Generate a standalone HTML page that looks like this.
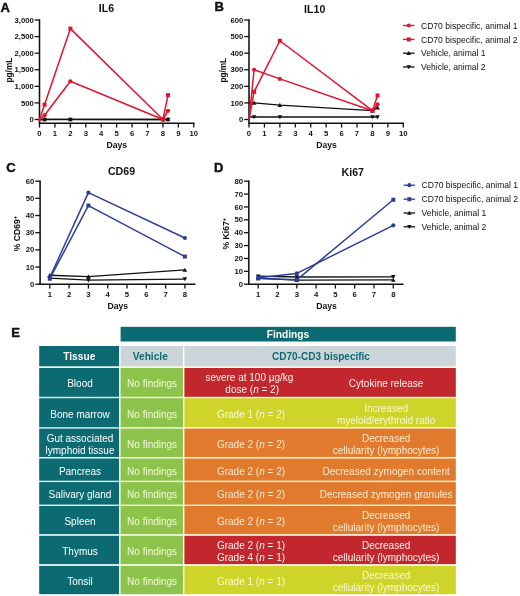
<!DOCTYPE html>
<html><head><meta charset="utf-8"><title>Figure</title>
<style>html,body{margin:0;padding:0;background:#fff}svg{display:block}</style></head>
<body>
<svg width="520" height="596" viewBox="0 0 520 596" font-family='"Liberation Sans", Arial, sans-serif' fill="#111111">
<rect width="520" height="596" fill="#fff"/>
<text x="0.4" y="12.4" font-size="13.0" font-weight="bold" stroke="#111" stroke-width="0.45" stroke-linejoin="round">A</text>
<text x="214.4" y="11.4" font-size="13.0" font-weight="bold" stroke="#111" stroke-width="0.45" stroke-linejoin="round">B</text>
<text x="6.3" y="172.3" font-size="13.0" font-weight="bold" stroke="#111" stroke-width="0.45" stroke-linejoin="round">C</text>
<text x="214.0" y="172.3" font-size="13.0" font-weight="bold" stroke="#111" stroke-width="0.45" stroke-linejoin="round">D</text>
<text x="11.3" y="337.4" font-size="13.0" font-weight="bold" stroke="#111" stroke-width="0.45" stroke-linejoin="round">E</text>
<line x1="39.5" y1="19.20" x2="39.5" y2="123.90" stroke="#111111" stroke-width="1.55"/>
<line x1="38.80" y1="123.2" x2="194.5" y2="123.2" stroke="#111111" stroke-width="1.55"/>
<line x1="34.70" y1="119.50" x2="39.5" y2="119.50" stroke="#111111" stroke-width="1.3"/>
<text x="33.80" y="122.10" text-anchor="end" font-size="7.7" font-weight="bold">0</text>
<line x1="34.70" y1="102.92" x2="39.5" y2="102.92" stroke="#111111" stroke-width="1.3"/>
<text x="33.80" y="105.52" text-anchor="end" font-size="7.7" font-weight="bold">500</text>
<line x1="34.70" y1="86.34" x2="39.5" y2="86.34" stroke="#111111" stroke-width="1.3"/>
<text x="33.80" y="88.94" text-anchor="end" font-size="7.7" font-weight="bold">1,000</text>
<line x1="34.70" y1="69.76" x2="39.5" y2="69.76" stroke="#111111" stroke-width="1.3"/>
<text x="33.80" y="72.36" text-anchor="end" font-size="7.7" font-weight="bold">1,500</text>
<line x1="34.70" y1="53.18" x2="39.5" y2="53.18" stroke="#111111" stroke-width="1.3"/>
<text x="33.80" y="55.78" text-anchor="end" font-size="7.7" font-weight="bold">2,000</text>
<line x1="34.70" y1="36.60" x2="39.5" y2="36.60" stroke="#111111" stroke-width="1.3"/>
<text x="33.80" y="39.20" text-anchor="end" font-size="7.7" font-weight="bold">2,500</text>
<line x1="34.70" y1="20.02" x2="39.5" y2="20.02" stroke="#111111" stroke-width="1.3"/>
<text x="33.80" y="22.62" text-anchor="end" font-size="7.7" font-weight="bold">3,000</text>
<line x1="39.50" y1="123.2" x2="39.50" y2="127.60" stroke="#111111" stroke-width="1.3"/>
<text x="39.50" y="135.80" text-anchor="middle" font-size="7.7" font-weight="bold">0</text>
<line x1="54.93" y1="123.2" x2="54.93" y2="127.60" stroke="#111111" stroke-width="1.3"/>
<text x="54.93" y="135.80" text-anchor="middle" font-size="7.7" font-weight="bold">1</text>
<line x1="70.36" y1="123.2" x2="70.36" y2="127.60" stroke="#111111" stroke-width="1.3"/>
<text x="70.36" y="135.80" text-anchor="middle" font-size="7.7" font-weight="bold">2</text>
<line x1="85.79" y1="123.2" x2="85.79" y2="127.60" stroke="#111111" stroke-width="1.3"/>
<text x="85.79" y="135.80" text-anchor="middle" font-size="7.7" font-weight="bold">3</text>
<line x1="101.22" y1="123.2" x2="101.22" y2="127.60" stroke="#111111" stroke-width="1.3"/>
<text x="101.22" y="135.80" text-anchor="middle" font-size="7.7" font-weight="bold">4</text>
<line x1="116.65" y1="123.2" x2="116.65" y2="127.60" stroke="#111111" stroke-width="1.3"/>
<text x="116.65" y="135.80" text-anchor="middle" font-size="7.7" font-weight="bold">5</text>
<line x1="132.08" y1="123.2" x2="132.08" y2="127.60" stroke="#111111" stroke-width="1.3"/>
<text x="132.08" y="135.80" text-anchor="middle" font-size="7.7" font-weight="bold">6</text>
<line x1="147.51" y1="123.2" x2="147.51" y2="127.60" stroke="#111111" stroke-width="1.3"/>
<text x="147.51" y="135.80" text-anchor="middle" font-size="7.7" font-weight="bold">7</text>
<line x1="162.94" y1="123.2" x2="162.94" y2="127.60" stroke="#111111" stroke-width="1.3"/>
<text x="162.94" y="135.80" text-anchor="middle" font-size="7.7" font-weight="bold">8</text>
<line x1="178.37" y1="123.2" x2="178.37" y2="127.60" stroke="#111111" stroke-width="1.3"/>
<text x="178.37" y="135.80" text-anchor="middle" font-size="7.7" font-weight="bold">9</text>
<line x1="193.80" y1="123.2" x2="193.80" y2="127.60" stroke="#111111" stroke-width="1.3"/>
<text x="193.80" y="135.80" text-anchor="middle" font-size="7.7" font-weight="bold">10</text>
<text x="106.5" y="12.30" text-anchor="middle" font-size="10.6" font-weight="bold">IL6</text>
<text transform="translate(12.0,70.1) rotate(-90)" text-anchor="middle" font-size="8.2" font-weight="bold">pg/mL</text>
<text x="116.8" y="148.20" text-anchor="middle" font-size="8.6" font-weight="bold">Days</text>
<polyline points="39.50,119.50 44.59,119.40 70.36,119.33 162.94,119.50 168.03,119.33" fill="none" stroke="#111111" stroke-width="1.3" stroke-linejoin="round"/>
<polygon points="42.29,121.24 46.89,121.24 44.59,117.10" fill="#111111"/>
<polygon points="68.06,121.17 72.66,121.17 70.36,117.03" fill="#111111"/>
<polygon points="160.64,121.34 165.24,121.34 162.94,117.20" fill="#111111"/>
<polygon points="165.73,121.17 170.33,121.17 168.03,117.03" fill="#111111"/>
<polyline points="39.50,119.50 44.59,119.50 70.36,119.50 162.94,119.50 168.03,119.50" fill="none" stroke="#111111" stroke-width="1.3" stroke-linejoin="round"/>
<polygon points="42.29,117.66 46.89,117.66 44.59,121.80" fill="#111111"/>
<polygon points="68.06,117.66 72.66,117.66 70.36,121.80" fill="#111111"/>
<polygon points="160.64,117.66 165.24,117.66 162.94,121.80" fill="#111111"/>
<polygon points="165.73,117.66 170.33,117.66 168.03,121.80" fill="#111111"/>
<polyline points="39.50,119.50 44.59,115.19 70.36,81.27 162.94,119.50 168.03,110.81" fill="none" stroke="#e0152d" stroke-width="1.5" stroke-linejoin="round"/>
<circle cx="44.59" cy="115.19" r="2.10" fill="#e0152d"/>
<circle cx="70.36" cy="81.27" r="2.10" fill="#e0152d"/>
<circle cx="162.94" cy="119.50" r="2.10" fill="#e0152d"/>
<circle cx="168.03" cy="110.81" r="2.10" fill="#e0152d"/>
<polyline points="39.50,119.50 44.59,104.58 70.36,28.64 162.94,119.50 168.03,95.13" fill="none" stroke="#e0152d" stroke-width="1.5" stroke-linejoin="round"/>
<rect x="42.59" y="102.58" width="4.00" height="4.00" fill="#e0152d"/>
<rect x="68.36" y="26.64" width="4.00" height="4.00" fill="#e0152d"/>
<rect x="160.94" y="117.50" width="4.00" height="4.00" fill="#e0152d"/>
<rect x="166.03" y="93.13" width="4.00" height="4.00" fill="#e0152d"/>
<circle cx="39.7" cy="119.7" r="1.7" fill="#e0152d"/>
<line x1="249" y1="19.20" x2="249" y2="123.90" stroke="#111111" stroke-width="1.55"/>
<line x1="248.30" y1="123.2" x2="404" y2="123.2" stroke="#111111" stroke-width="1.55"/>
<line x1="244.20" y1="119.50" x2="249" y2="119.50" stroke="#111111" stroke-width="1.3"/>
<text x="243.30" y="122.10" text-anchor="end" font-size="7.7" font-weight="bold">0</text>
<line x1="244.20" y1="102.92" x2="249" y2="102.92" stroke="#111111" stroke-width="1.3"/>
<text x="243.30" y="105.52" text-anchor="end" font-size="7.7" font-weight="bold">100</text>
<line x1="244.20" y1="86.34" x2="249" y2="86.34" stroke="#111111" stroke-width="1.3"/>
<text x="243.30" y="88.94" text-anchor="end" font-size="7.7" font-weight="bold">200</text>
<line x1="244.20" y1="69.76" x2="249" y2="69.76" stroke="#111111" stroke-width="1.3"/>
<text x="243.30" y="72.36" text-anchor="end" font-size="7.7" font-weight="bold">300</text>
<line x1="244.20" y1="53.18" x2="249" y2="53.18" stroke="#111111" stroke-width="1.3"/>
<text x="243.30" y="55.78" text-anchor="end" font-size="7.7" font-weight="bold">400</text>
<line x1="244.20" y1="36.60" x2="249" y2="36.60" stroke="#111111" stroke-width="1.3"/>
<text x="243.30" y="39.20" text-anchor="end" font-size="7.7" font-weight="bold">500</text>
<line x1="244.20" y1="20.02" x2="249" y2="20.02" stroke="#111111" stroke-width="1.3"/>
<text x="243.30" y="22.62" text-anchor="end" font-size="7.7" font-weight="bold">600</text>
<line x1="249.00" y1="123.2" x2="249.00" y2="127.60" stroke="#111111" stroke-width="1.3"/>
<text x="249.00" y="135.80" text-anchor="middle" font-size="7.7" font-weight="bold">0</text>
<line x1="264.43" y1="123.2" x2="264.43" y2="127.60" stroke="#111111" stroke-width="1.3"/>
<text x="264.43" y="135.80" text-anchor="middle" font-size="7.7" font-weight="bold">1</text>
<line x1="279.86" y1="123.2" x2="279.86" y2="127.60" stroke="#111111" stroke-width="1.3"/>
<text x="279.86" y="135.80" text-anchor="middle" font-size="7.7" font-weight="bold">2</text>
<line x1="295.29" y1="123.2" x2="295.29" y2="127.60" stroke="#111111" stroke-width="1.3"/>
<text x="295.29" y="135.80" text-anchor="middle" font-size="7.7" font-weight="bold">3</text>
<line x1="310.72" y1="123.2" x2="310.72" y2="127.60" stroke="#111111" stroke-width="1.3"/>
<text x="310.72" y="135.80" text-anchor="middle" font-size="7.7" font-weight="bold">4</text>
<line x1="326.15" y1="123.2" x2="326.15" y2="127.60" stroke="#111111" stroke-width="1.3"/>
<text x="326.15" y="135.80" text-anchor="middle" font-size="7.7" font-weight="bold">5</text>
<line x1="341.58" y1="123.2" x2="341.58" y2="127.60" stroke="#111111" stroke-width="1.3"/>
<text x="341.58" y="135.80" text-anchor="middle" font-size="7.7" font-weight="bold">6</text>
<line x1="357.01" y1="123.2" x2="357.01" y2="127.60" stroke="#111111" stroke-width="1.3"/>
<text x="357.01" y="135.80" text-anchor="middle" font-size="7.7" font-weight="bold">7</text>
<line x1="372.44" y1="123.2" x2="372.44" y2="127.60" stroke="#111111" stroke-width="1.3"/>
<text x="372.44" y="135.80" text-anchor="middle" font-size="7.7" font-weight="bold">8</text>
<line x1="387.87" y1="123.2" x2="387.87" y2="127.60" stroke="#111111" stroke-width="1.3"/>
<text x="387.87" y="135.80" text-anchor="middle" font-size="7.7" font-weight="bold">9</text>
<line x1="403.30" y1="123.2" x2="403.30" y2="127.60" stroke="#111111" stroke-width="1.3"/>
<text x="403.30" y="135.80" text-anchor="middle" font-size="7.7" font-weight="bold">10</text>
<text x="314.7" y="13.10" text-anchor="middle" font-size="10.6" font-weight="bold">IL10</text>
<text transform="translate(225.5,70.2) rotate(-90)" text-anchor="middle" font-size="8.2" font-weight="bold">pg/mL</text>
<text x="326.5" y="148.20" text-anchor="middle" font-size="8.6" font-weight="bold">Days</text>
<polyline points="249.00,102.92 254.09,102.92 279.86,105.08 372.44,110.71 377.53,107.56" fill="none" stroke="#111111" stroke-width="1.3" stroke-linejoin="round"/>
<polygon points="251.79,104.76 256.39,104.76 254.09,100.62" fill="#111111"/>
<polygon points="277.56,106.92 282.16,106.92 279.86,102.78" fill="#111111"/>
<polygon points="370.14,112.55 374.74,112.55 372.44,108.41" fill="#111111"/>
<polygon points="375.23,109.40 379.83,109.40 377.53,105.26" fill="#111111"/>
<polyline points="249.00,117.01 254.09,117.01 279.86,117.01 372.44,117.01 377.53,117.01" fill="none" stroke="#111111" stroke-width="1.3" stroke-linejoin="round"/>
<polygon points="251.79,115.17 256.39,115.17 254.09,119.31" fill="#111111"/>
<polygon points="277.56,115.17 282.16,115.17 279.86,119.31" fill="#111111"/>
<polygon points="370.14,115.17 374.74,115.17 372.44,119.31" fill="#111111"/>
<polygon points="375.23,115.17 379.83,115.17 377.53,119.31" fill="#111111"/>
<polyline points="249.00,119.50 254.09,69.76 279.86,78.88 372.44,110.71 377.53,104.25" fill="none" stroke="#e0152d" stroke-width="1.5" stroke-linejoin="round"/>
<circle cx="254.09" cy="69.76" r="2.10" fill="#e0152d"/>
<circle cx="279.86" cy="78.88" r="2.10" fill="#e0152d"/>
<circle cx="372.44" cy="110.71" r="2.10" fill="#e0152d"/>
<circle cx="377.53" cy="104.25" r="2.10" fill="#e0152d"/>
<polyline points="249.00,119.50 254.09,91.81 279.86,40.75 372.44,110.71 377.53,95.46" fill="none" stroke="#e0152d" stroke-width="1.5" stroke-linejoin="round"/>
<rect x="252.09" y="89.81" width="4.00" height="4.00" fill="#e0152d"/>
<rect x="277.86" y="38.75" width="4.00" height="4.00" fill="#e0152d"/>
<rect x="370.44" y="108.71" width="4.00" height="4.00" fill="#e0152d"/>
<rect x="375.53" y="93.46" width="4.00" height="4.00" fill="#e0152d"/>
<line x1="40.1" y1="180.50" x2="40.1" y2="284.90" stroke="#111111" stroke-width="1.55"/>
<line x1="39.40" y1="284.2" x2="195.5" y2="284.2" stroke="#111111" stroke-width="1.55"/>
<line x1="35.30" y1="284.20" x2="40.1" y2="284.20" stroke="#111111" stroke-width="1.3"/>
<text x="34.40" y="286.80" text-anchor="end" font-size="7.7" font-weight="bold">0</text>
<line x1="35.30" y1="267.03" x2="40.1" y2="267.03" stroke="#111111" stroke-width="1.3"/>
<text x="34.40" y="269.63" text-anchor="end" font-size="7.7" font-weight="bold">10</text>
<line x1="35.30" y1="249.86" x2="40.1" y2="249.86" stroke="#111111" stroke-width="1.3"/>
<text x="34.40" y="252.46" text-anchor="end" font-size="7.7" font-weight="bold">20</text>
<line x1="35.30" y1="232.69" x2="40.1" y2="232.69" stroke="#111111" stroke-width="1.3"/>
<text x="34.40" y="235.29" text-anchor="end" font-size="7.7" font-weight="bold">30</text>
<line x1="35.30" y1="215.52" x2="40.1" y2="215.52" stroke="#111111" stroke-width="1.3"/>
<text x="34.40" y="218.12" text-anchor="end" font-size="7.7" font-weight="bold">40</text>
<line x1="35.30" y1="198.35" x2="40.1" y2="198.35" stroke="#111111" stroke-width="1.3"/>
<text x="34.40" y="200.95" text-anchor="end" font-size="7.7" font-weight="bold">50</text>
<line x1="35.30" y1="181.18" x2="40.1" y2="181.18" stroke="#111111" stroke-width="1.3"/>
<text x="34.40" y="183.78" text-anchor="end" font-size="7.7" font-weight="bold">60</text>
<line x1="49.80" y1="284.2" x2="49.80" y2="288.60" stroke="#111111" stroke-width="1.3"/>
<text x="49.80" y="296.80" text-anchor="middle" font-size="7.7" font-weight="bold">1</text>
<line x1="69.10" y1="284.2" x2="69.10" y2="288.60" stroke="#111111" stroke-width="1.3"/>
<text x="69.10" y="296.80" text-anchor="middle" font-size="7.7" font-weight="bold">2</text>
<line x1="88.40" y1="284.2" x2="88.40" y2="288.60" stroke="#111111" stroke-width="1.3"/>
<text x="88.40" y="296.80" text-anchor="middle" font-size="7.7" font-weight="bold">3</text>
<line x1="107.70" y1="284.2" x2="107.70" y2="288.60" stroke="#111111" stroke-width="1.3"/>
<text x="107.70" y="296.80" text-anchor="middle" font-size="7.7" font-weight="bold">4</text>
<line x1="127.00" y1="284.2" x2="127.00" y2="288.60" stroke="#111111" stroke-width="1.3"/>
<text x="127.00" y="296.80" text-anchor="middle" font-size="7.7" font-weight="bold">5</text>
<line x1="146.30" y1="284.2" x2="146.30" y2="288.60" stroke="#111111" stroke-width="1.3"/>
<text x="146.30" y="296.80" text-anchor="middle" font-size="7.7" font-weight="bold">6</text>
<line x1="165.60" y1="284.2" x2="165.60" y2="288.60" stroke="#111111" stroke-width="1.3"/>
<text x="165.60" y="296.80" text-anchor="middle" font-size="7.7" font-weight="bold">7</text>
<line x1="184.90" y1="284.2" x2="184.90" y2="288.60" stroke="#111111" stroke-width="1.3"/>
<text x="184.90" y="296.80" text-anchor="middle" font-size="7.7" font-weight="bold">8</text>
<text x="121.5" y="174.90" text-anchor="middle" font-size="10.6" font-weight="bold">CD69</text>
<text transform="translate(20.3,233.7) rotate(-90)" text-anchor="middle" font-size="8.65" font-weight="bold">% CD69<tspan baseline-shift="super" font-size="5.5">+</tspan></text>
<text x="117.8" y="309.20" text-anchor="middle" font-size="8.6" font-weight="bold">Days</text>
<polyline points="49.80,275.27 88.40,276.65 184.90,269.95" fill="none" stroke="#111111" stroke-width="1.3" stroke-linejoin="round"/>
<polygon points="47.50,277.11 52.10,277.11 49.80,272.97" fill="#111111"/>
<polygon points="86.10,278.49 90.70,278.49 88.40,274.35" fill="#111111"/>
<polygon points="182.60,271.79 187.20,271.79 184.90,267.65" fill="#111111"/>
<polyline points="49.80,278.19 88.40,280.08 184.90,279.05" fill="none" stroke="#111111" stroke-width="1.3" stroke-linejoin="round"/>
<polygon points="47.50,276.35 52.10,276.35 49.80,280.49" fill="#111111"/>
<polygon points="86.10,278.24 90.70,278.24 88.40,282.38" fill="#111111"/>
<polygon points="182.60,277.21 187.20,277.21 184.90,281.35" fill="#111111"/>
<polyline points="49.80,277.50 88.40,192.68 184.90,238.01" fill="none" stroke="#2c3f98" stroke-width="1.5" stroke-linejoin="round"/>
<circle cx="49.80" cy="277.50" r="2.10" fill="#2c3f98"/>
<circle cx="88.40" cy="192.68" r="2.10" fill="#2c3f98"/>
<circle cx="184.90" cy="238.01" r="2.10" fill="#2c3f98"/>
<polyline points="49.80,278.71 88.40,205.56 184.90,256.56" fill="none" stroke="#2c3f98" stroke-width="1.5" stroke-linejoin="round"/>
<rect x="47.80" y="276.71" width="4.00" height="4.00" fill="#2c3f98"/>
<rect x="86.40" y="203.56" width="4.00" height="4.00" fill="#2c3f98"/>
<rect x="182.90" y="254.56" width="4.00" height="4.00" fill="#2c3f98"/>
<line x1="248.8" y1="180.50" x2="248.8" y2="284.90" stroke="#111111" stroke-width="1.55"/>
<line x1="248.10" y1="284.2" x2="403.6" y2="284.2" stroke="#111111" stroke-width="1.55"/>
<line x1="244.00" y1="284.20" x2="248.8" y2="284.20" stroke="#111111" stroke-width="1.3"/>
<text x="243.10" y="286.80" text-anchor="end" font-size="7.7" font-weight="bold">0</text>
<line x1="244.00" y1="271.32" x2="248.8" y2="271.32" stroke="#111111" stroke-width="1.3"/>
<text x="243.10" y="273.93" text-anchor="end" font-size="7.7" font-weight="bold">10</text>
<line x1="244.00" y1="258.45" x2="248.8" y2="258.45" stroke="#111111" stroke-width="1.3"/>
<text x="243.10" y="261.05" text-anchor="end" font-size="7.7" font-weight="bold">20</text>
<line x1="244.00" y1="245.57" x2="248.8" y2="245.57" stroke="#111111" stroke-width="1.3"/>
<text x="243.10" y="248.17" text-anchor="end" font-size="7.7" font-weight="bold">30</text>
<line x1="244.00" y1="232.70" x2="248.8" y2="232.70" stroke="#111111" stroke-width="1.3"/>
<text x="243.10" y="235.30" text-anchor="end" font-size="7.7" font-weight="bold">40</text>
<line x1="244.00" y1="219.82" x2="248.8" y2="219.82" stroke="#111111" stroke-width="1.3"/>
<text x="243.10" y="222.42" text-anchor="end" font-size="7.7" font-weight="bold">50</text>
<line x1="244.00" y1="206.95" x2="248.8" y2="206.95" stroke="#111111" stroke-width="1.3"/>
<text x="243.10" y="209.55" text-anchor="end" font-size="7.7" font-weight="bold">60</text>
<line x1="244.00" y1="194.07" x2="248.8" y2="194.07" stroke="#111111" stroke-width="1.3"/>
<text x="243.10" y="196.67" text-anchor="end" font-size="7.7" font-weight="bold">70</text>
<line x1="244.00" y1="181.20" x2="248.8" y2="181.20" stroke="#111111" stroke-width="1.3"/>
<text x="243.10" y="183.80" text-anchor="end" font-size="7.7" font-weight="bold">80</text>
<line x1="258.20" y1="284.2" x2="258.20" y2="288.60" stroke="#111111" stroke-width="1.3"/>
<text x="258.20" y="296.80" text-anchor="middle" font-size="7.7" font-weight="bold">1</text>
<line x1="277.50" y1="284.2" x2="277.50" y2="288.60" stroke="#111111" stroke-width="1.3"/>
<text x="277.50" y="296.80" text-anchor="middle" font-size="7.7" font-weight="bold">2</text>
<line x1="296.80" y1="284.2" x2="296.80" y2="288.60" stroke="#111111" stroke-width="1.3"/>
<text x="296.80" y="296.80" text-anchor="middle" font-size="7.7" font-weight="bold">3</text>
<line x1="316.10" y1="284.2" x2="316.10" y2="288.60" stroke="#111111" stroke-width="1.3"/>
<text x="316.10" y="296.80" text-anchor="middle" font-size="7.7" font-weight="bold">4</text>
<line x1="335.40" y1="284.2" x2="335.40" y2="288.60" stroke="#111111" stroke-width="1.3"/>
<text x="335.40" y="296.80" text-anchor="middle" font-size="7.7" font-weight="bold">5</text>
<line x1="354.70" y1="284.2" x2="354.70" y2="288.60" stroke="#111111" stroke-width="1.3"/>
<text x="354.70" y="296.80" text-anchor="middle" font-size="7.7" font-weight="bold">6</text>
<line x1="374.00" y1="284.2" x2="374.00" y2="288.60" stroke="#111111" stroke-width="1.3"/>
<text x="374.00" y="296.80" text-anchor="middle" font-size="7.7" font-weight="bold">7</text>
<line x1="393.30" y1="284.2" x2="393.30" y2="288.60" stroke="#111111" stroke-width="1.3"/>
<text x="393.30" y="296.80" text-anchor="middle" font-size="7.7" font-weight="bold">8</text>
<text x="352.8" y="176.00" text-anchor="middle" font-size="10.6" font-weight="bold">Ki67</text>
<text transform="translate(229.3,233.7) rotate(-90)" text-anchor="middle" font-size="8.65" font-weight="bold">% Ki67<tspan baseline-shift="super" font-size="5.5">+</tspan></text>
<text x="326.5" y="309.20" text-anchor="middle" font-size="8.6" font-weight="bold">Days</text>
<polyline points="258.20,276.22 296.80,276.99 393.30,276.86" fill="none" stroke="#111111" stroke-width="1.3" stroke-linejoin="round"/>
<polygon points="255.90,274.38 260.50,274.38 258.20,278.52" fill="#111111"/>
<polygon points="294.50,275.15 299.10,275.15 296.80,279.29" fill="#111111"/>
<polygon points="391.00,275.02 395.60,275.02 393.30,279.16" fill="#111111"/>
<polyline points="258.20,278.41 296.80,280.08 393.30,279.95" fill="none" stroke="#111111" stroke-width="1.3" stroke-linejoin="round"/>
<polygon points="255.90,280.25 260.50,280.25 258.20,276.11" fill="#111111"/>
<polygon points="294.50,281.92 299.10,281.92 296.80,277.78" fill="#111111"/>
<polygon points="391.00,281.79 395.60,281.79 393.30,277.65" fill="#111111"/>
<polyline points="258.20,277.76 296.80,273.38 393.30,225.36" fill="none" stroke="#2c3f98" stroke-width="1.5" stroke-linejoin="round"/>
<circle cx="258.20" cy="277.76" r="2.10" fill="#2c3f98"/>
<circle cx="296.80" cy="273.38" r="2.10" fill="#2c3f98"/>
<circle cx="393.30" cy="225.36" r="2.10" fill="#2c3f98"/>
<polyline points="258.20,278.28 296.80,279.82 393.30,199.74" fill="none" stroke="#2c3f98" stroke-width="1.5" stroke-linejoin="round"/>
<rect x="256.20" y="276.28" width="4.00" height="4.00" fill="#2c3f98"/>
<rect x="294.80" y="277.82" width="4.00" height="4.00" fill="#2c3f98"/>
<rect x="391.30" y="197.74" width="4.00" height="4.00" fill="#2c3f98"/>
<line x1="403" y1="25.5" x2="414.5" y2="25.5" stroke="#e0152d" stroke-width="1.3"/>
<circle cx="408.75" cy="25.50" r="2.10" fill="#e0152d"/>
<text x="421" y="28.60" font-size="8.55">CD70 bispecific, animal 1</text>
<line x1="403" y1="39.4" x2="414.5" y2="39.4" stroke="#e0152d" stroke-width="1.3"/>
<rect x="406.75" y="37.40" width="4.00" height="4.00" fill="#e0152d"/>
<text x="421" y="42.50" font-size="8.55">CD70 bispecific, animal 2</text>
<line x1="403" y1="53.2" x2="414.5" y2="53.2" stroke="#111111" stroke-width="1.3"/>
<polygon points="406.45,55.04 411.05,55.04 408.75,50.90" fill="#111111"/>
<text x="421" y="56.30" font-size="8.55">Vehicle, animal 1</text>
<line x1="403" y1="67.0" x2="414.5" y2="67.0" stroke="#111111" stroke-width="1.3"/>
<polygon points="406.45,65.16 411.05,65.16 408.75,69.30" fill="#111111"/>
<text x="421" y="70.10" font-size="8.55">Vehicle, animal 2</text>
<line x1="403.6" y1="185.2" x2="415.1" y2="185.2" stroke="#2c3f98" stroke-width="1.3"/>
<circle cx="409.35" cy="185.20" r="2.10" fill="#2c3f98"/>
<text x="421.6" y="188.30" font-size="8.55">CD70 bispecific, animal 1</text>
<line x1="403.6" y1="199.2" x2="415.1" y2="199.2" stroke="#2c3f98" stroke-width="1.3"/>
<rect x="407.35" y="197.20" width="4.00" height="4.00" fill="#2c3f98"/>
<text x="421.6" y="202.30" font-size="8.55">CD70 bispecific, animal 2</text>
<line x1="403.6" y1="213.0" x2="415.1" y2="213.0" stroke="#111111" stroke-width="1.3"/>
<polygon points="407.05,214.84 411.65,214.84 409.35,210.70" fill="#111111"/>
<text x="421.6" y="216.10" font-size="8.55">Vehicle, animal 1</text>
<line x1="403.6" y1="226.8" x2="415.1" y2="226.8" stroke="#111111" stroke-width="1.3"/>
<polygon points="407.05,224.96 411.65,224.96 409.35,229.10" fill="#111111"/>
<text x="421.6" y="229.90" font-size="8.55">Vehicle, animal 2</text>
<rect x="120.6" y="326.8" width="335.20" height="14.70" fill="#0c6a73"/>
<text x="288" y="337.9" text-anchor="middle" font-size="10.2" font-weight="bold" fill="#fff">Findings</text>
<rect x="39.2" y="346.0" width="79.85" height="20.55" fill="#0c6a73"/>
<rect x="120.55" y="346.0" width="62.40" height="20.55" fill="#ccd6da"/>
<rect x="184.4" y="346.0" width="271.40" height="20.55" fill="#ccd6da"/>
<text x="79.3" y="359.9" text-anchor="middle" font-size="10.2" font-weight="bold" fill="#fff">Tissue</text>
<text x="150.3" y="359.9" text-anchor="middle" font-size="10.2" font-weight="bold" fill="#0c6a73">Vehicle</text>
<text x="321" y="359.9" text-anchor="middle" font-size="10.0" font-weight="bold" fill="#0c6a73">CD70-CD3 bispecific</text>
<rect x="39.2" y="366.5" width="79.85" height="227" fill="#e2f5f7"/>
<rect x="120.55" y="366.5" width="62.40" height="227" fill="#f6fbdf"/>
<rect x="184.4" y="366.5" width="271.40" height="227" fill="#fdf6df"/>
<rect x="39.2" y="368.0" width="79.85" height="28.80" fill="#0c6a73"/>
<rect x="120.55" y="368.0" width="62.40" height="28.80" fill="#8cc34b"/>
<rect x="184.4" y="368.0" width="271.40" height="28.80" fill="#c1272d"/>
<text x="80.00" y="387.30" text-anchor="middle" font-size="10" fill="#fff">Blood</text>
<text x="152.10" y="387.30" text-anchor="middle" font-size="10" fill="#f4f9d8">No findings</text>
<text x="249.40" y="381.40" text-anchor="middle" font-size="10" fill="#fdf1ee">severe at 100 µg/kg</text>
<text x="252.20" y="393.20" text-anchor="middle" font-size="10" fill="#fdf1ee">dose (<tspan font-style="italic">n</tspan> = 2)</text>
<text x="386.10" y="387.30" text-anchor="middle" font-size="10" fill="#fdf1ee">Cytokine release</text>
<rect x="39.2" y="398.2" width="79.85" height="29.00" fill="#0c6a73"/>
<rect x="120.55" y="398.2" width="62.40" height="29.00" fill="#8cc34b"/>
<rect x="184.4" y="398.2" width="271.40" height="29.00" fill="#cfd42a"/>
<text x="80.00" y="417.60" text-anchor="middle" font-size="10" fill="#fff">Bone marrow</text>
<text x="152.10" y="417.60" text-anchor="middle" font-size="10" fill="#f4f9d8">No findings</text>
<text x="251.00" y="417.60" text-anchor="middle" font-size="10" fill="#f9f9d0">Grade 1 (<tspan font-style="italic">n</tspan> = 2)</text>
<text x="386.10" y="411.70" text-anchor="middle" font-size="10" fill="#f9f9d0">Increased</text>
<text x="386.10" y="423.50" text-anchor="middle" font-size="10" fill="#f9f9d0">myeloid/erythroid ratio</text>
<rect x="39.2" y="428.59999999999997" width="79.85" height="28.40" fill="#0c6a73"/>
<rect x="120.55" y="428.59999999999997" width="62.40" height="28.40" fill="#8cc34b"/>
<rect x="184.4" y="428.59999999999997" width="271.40" height="28.40" fill="#e17a2d"/>
<text x="80.00" y="441.80" text-anchor="middle" font-size="10" fill="#fff">Gut associated</text>
<text x="80.00" y="453.60" text-anchor="middle" font-size="10" fill="#fff">lymphoid tissue</text>
<text x="152.10" y="447.70" text-anchor="middle" font-size="10" fill="#f4f9d8">No findings</text>
<text x="251.00" y="447.70" text-anchor="middle" font-size="10" fill="#fdecd2">Grade 2 (<tspan font-style="italic">n</tspan> = 2)</text>
<text x="386.10" y="441.80" text-anchor="middle" font-size="10" fill="#fdecd2">Decreased</text>
<text x="386.10" y="453.60" text-anchor="middle" font-size="10" fill="#fdecd2">cellularity (lymphocytes)</text>
<rect x="39.2" y="458.5" width="79.85" height="22.20" fill="#0c6a73"/>
<rect x="120.55" y="458.5" width="62.40" height="22.20" fill="#8cc34b"/>
<rect x="184.4" y="458.5" width="271.40" height="22.20" fill="#e17a2d"/>
<text x="80.00" y="474.50" text-anchor="middle" font-size="10" fill="#fff">Pancreas</text>
<text x="152.10" y="474.50" text-anchor="middle" font-size="10" fill="#f4f9d8">No findings</text>
<text x="251.00" y="474.50" text-anchor="middle" font-size="10" fill="#fdecd2">Grade 2 (<tspan font-style="italic">n</tspan> = 2)</text>
<text x="386.10" y="474.50" text-anchor="middle" font-size="10" fill="#fdecd2">Decreased zymogen content</text>
<rect x="39.2" y="482.09999999999997" width="79.85" height="22.50" fill="#0c6a73"/>
<rect x="120.55" y="482.09999999999997" width="62.40" height="22.50" fill="#8cc34b"/>
<rect x="184.4" y="482.09999999999997" width="271.40" height="22.50" fill="#e17a2d"/>
<text x="80.00" y="498.25" text-anchor="middle" font-size="10" fill="#fff">Salivary gland</text>
<text x="152.10" y="498.25" text-anchor="middle" font-size="10" fill="#f4f9d8">No findings</text>
<text x="251.00" y="498.25" text-anchor="middle" font-size="10" fill="#fdecd2">Grade 2 (<tspan font-style="italic">n</tspan> = 2)</text>
<text x="386.10" y="498.25" text-anchor="middle" font-size="10" fill="#fdecd2">Decreased zymogen granules</text>
<rect x="39.2" y="506.0" width="79.85" height="28.10" fill="#0c6a73"/>
<rect x="120.55" y="506.0" width="62.40" height="28.10" fill="#8cc34b"/>
<rect x="184.4" y="506.0" width="271.40" height="28.10" fill="#e17a2d"/>
<text x="80.00" y="524.95" text-anchor="middle" font-size="10" fill="#fff">Spleen</text>
<text x="152.10" y="524.95" text-anchor="middle" font-size="10" fill="#f4f9d8">No findings</text>
<text x="251.00" y="524.95" text-anchor="middle" font-size="10" fill="#fdecd2">Grade 2 (<tspan font-style="italic">n</tspan> = 2)</text>
<text x="386.10" y="519.05" text-anchor="middle" font-size="10" fill="#fdecd2">Decreased</text>
<text x="386.10" y="530.85" text-anchor="middle" font-size="10" fill="#fdecd2">cellularity (lymphocytes)</text>
<rect x="39.2" y="535.8000000000001" width="79.85" height="28.30" fill="#0c6a73"/>
<rect x="120.55" y="535.8000000000001" width="62.40" height="28.30" fill="#8cc34b"/>
<rect x="184.4" y="535.8000000000001" width="271.40" height="28.30" fill="#c1272d"/>
<text x="80.00" y="554.85" text-anchor="middle" font-size="10" fill="#fff">Thymus</text>
<text x="152.10" y="554.85" text-anchor="middle" font-size="10" fill="#f4f9d8">No findings</text>
<text x="251.00" y="548.95" text-anchor="middle" font-size="10" fill="#fdf1ee">Grade 2 (<tspan font-style="italic">n</tspan> = 1)</text>
<text x="251.00" y="560.75" text-anchor="middle" font-size="10" fill="#fdf1ee">Grade 4 (<tspan font-style="italic">n</tspan> = 1)</text>
<text x="386.10" y="548.95" text-anchor="middle" font-size="10" fill="#fdf1ee">Decreased</text>
<text x="386.10" y="560.75" text-anchor="middle" font-size="10" fill="#fdf1ee">cellularity (lymphocytes)</text>
<rect x="39.2" y="565.9000000000001" width="79.85" height="28.30" fill="#0c6a73"/>
<rect x="120.55" y="565.9000000000001" width="62.40" height="28.30" fill="#8cc34b"/>
<rect x="184.4" y="565.9000000000001" width="271.40" height="28.30" fill="#cfd42a"/>
<text x="80.00" y="585.10" text-anchor="middle" font-size="10" fill="#fff">Tonsil</text>
<text x="152.10" y="585.10" text-anchor="middle" font-size="10" fill="#f4f9d8">No findings</text>
<text x="251.00" y="585.10" text-anchor="middle" font-size="10" fill="#f9f9d0">Grade 1 (<tspan font-style="italic">n</tspan> = 1)</text>
<text x="386.10" y="579.20" text-anchor="middle" font-size="10" fill="#f9f9d0">Decreased</text>
<text x="386.10" y="591.00" text-anchor="middle" font-size="10" fill="#f9f9d0">cellularity (lymphocytes)</text>
</svg>
</body></html>
